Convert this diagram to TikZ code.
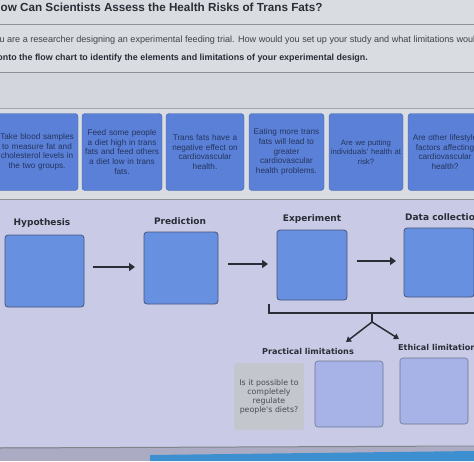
\documentclass[tikz,border=0pt]{standalone}
\usepackage{fontspec}
\setmainfont{Liberation Sans}
\newfontfamily\dejavu{DejaVu Sans}
\usetikzlibrary{arrows.meta}
\definecolor{topbg}{HTML}{D9DDE2}
\definecolor{bandbg}{HTML}{D3D7DD}
\definecolor{lowbg}{HTML}{C9CAE6}
\definecolor{tileblue}{HTML}{5B80D8}
\definecolor{tiletext}{HTML}{24355E}
\definecolor{boxblue}{HTML}{6890E0}
\definecolor{boxedge}{HTML}{46557A}
\definecolor{limblue}{HTML}{A7B3E6}
\definecolor{grayTile}{HTML}{C3C6CC}
\definecolor{ink}{HTML}{2A2D36}
\definecolor{rulegray}{HTML}{8E9298}
\definecolor{screenblue}{HTML}{3E8FD0}
\tikzset{
  tile/.style={fill=tileblue, draw=tileblue!80!black, line width=0.4pt, rounded corners=3pt,
    text=tiletext, font=\fontsize{8.2}{9.6}\selectfont, align=center, inner sep=1pt},
  slot/.style={fill=boxblue, draw=boxedge, line width=0.8pt, rounded corners=3pt},
  limslot/.style={fill=limblue, draw=boxedge!80, line width=0.6pt, rounded corners=3pt},
  heading/.style={font=\dejavu\bfseries\fontsize{9}{10}\selectfont, text=ink, inner sep=0pt},
  smallheading/.style={font=\dejavu\bfseries\fontsize{8.1}{9}\selectfont, text=ink, inner sep=0pt},
  flowarrow/.style={draw=ink, line width=2.4pt, -{Triangle[length=6pt,width=8pt]}},
  bracket/.style={draw=ink, line width=1.5pt},
  brarrow/.style={draw=ink, line width=1.5pt, -{Triangle[length=5pt,width=6pt]}},
}
\begin{document}
\begin{tikzpicture}[x=1pt,y=-1pt]
\useasboundingbox (0,0) rectangle (474,461);
\clip (0,0) rectangle (474,461);
% backgrounds
\fill[topbg] (0,0) rectangle (474,200);
\fill[bandbg] (0,72) rectangle (474,108);
\fill[lowbg] (0,200) rectangle (474,447);
\fill[lowbg!85!black] (0,447) rectangle (474,461);
\fill[screenblue] (150,455) -- (474,451) -- (474,461) -- (150,461) -- cycle;
\draw[rulegray, line width=0.6pt] (0,24) -- (474,24);
\draw[rulegray, line width=0.6pt] (0,72) -- (474,72);
\draw[rulegray!80, line width=0.5pt] (0,108) -- (474,108);
\draw[rulegray, line width=1pt] (0,199) -- (474,199);
\draw[rulegray!90!black, line width=1pt] (0,448) -- (474,446);
% header texts
\node[anchor=west, inner sep=0pt, text=ink, font=\bfseries\fontsize{11.7}{13}\selectfont] (title) at (-8,7) {How Can Scientists Assess the Health Risks of Trans Fats?};
\node[anchor=west, inner sep=0pt, text=ink!90, font=\fontsize{9.1}{10}\selectfont] (intro1) at (-11,40) {You are a researcher designing an experimental feeding trial. How would you set up your study and what limitations would};
\node[anchor=west, inner sep=0pt, text=ink, font=\bfseries\fontsize{8.9}{10}\selectfont] (intro2) at (-25.5,58) {Drag onto the flow chart to identify the elements and limitations of your experimental design.};
% tiles
\node[tile, minimum width=82pt, minimum height=77pt, text width=80pt] (t1) at (37,152) {Take blood samples\\ to measure fat and\\ cholesterol levels in\\ the two groups.};
\node[tile, minimum width=80pt, minimum height=77pt, text width=78pt] (t2) at (122,152) {Feed some people\\ a diet high in trans\\ fats and feed others\\ a diet low in trans\\ fats.};
\node[tile, minimum width=78pt, minimum height=77pt, text width=76pt] (t3) at (205,152) {Trans fats have a\\ negative effect on\\ cardiovascular\\ health.};
\node[tile, minimum width=75pt, minimum height=77pt, text width=73pt] (t4) at (286.5,152) {Eating more trans\\ fats will lead to\\ greater\\ cardiovascular\\ health problems.};
\node[tile, minimum width=74pt, minimum height=77pt, text width=72pt, font=\fontsize{7.7}{9.6}\selectfont] (t5) at (366,152) {Are we putting\\ individuals' health at\\ risk?};
\node[tile, minimum width=74pt, minimum height=77pt, text width=72pt] (t6) at (445,152) {Are other lifestyle\\ factors affecting\\ cardiovascular\\ health?};
% flow headings and slots
\node[heading] (hh) at (42,223) {Hypothesis};
\node[heading] (hp) at (180,221) {Prediction};
\node[heading] (he) at (312,219) {Experiment};
\node[heading, anchor=west] (hd) at (405,217) {Data collection};
\node[slot, minimum width=79pt, minimum height=72pt] (hyp) at (44.5,271) {};
\node[slot, minimum width=74pt, minimum height=72pt] (pred) at (181,268) {};
\node[slot, minimum width=70pt, minimum height=70pt] (exp) at (312,265) {};
\node[slot, minimum width=70pt, minimum height=69pt] (data) at (439,262.5) {};
\draw[flowarrow] (93,267) -- (135,267);
\draw[flowarrow] (228,264) -- (268,264);
\draw[flowarrow] (357,261) -- (396,261);
% bracket
\coordinate (bl) at (269,304);
\coordinate (blc) at (269,313);
\coordinate (br) at (474,313);
\coordinate (bm) at (372,313);
\coordinate (bfork) at (372,322);
\coordinate (lpt) at (346,342);
\coordinate (ept) at (399,339);
\draw[bracket] (bl) -- (blc) -- (br);
\draw[bracket] (bm) -- (bfork);
\draw[brarrow] (bfork) -- (lpt);
\draw[brarrow] (bfork) -- (ept);
\node[smallheading] (hpl) at (308,351) {Practical limitations};
\node[smallheading, anchor=west] (hel) at (398,347) {Ethical limitations};
% limitation slots
\node[fill=grayTile, rounded corners=3pt, minimum width=70pt, minimum height=67pt, text width=68pt, align=center, text=ink!85, font=\dejavu\fontsize{7.8}{9}\selectfont, inner sep=1pt] (gt) at (269,396.5) {Is it possible to\\ completely\\ regulate\\ people's diets?};
\node[limslot, minimum width=68pt, minimum height=66pt] (pl) at (349,394) {};
\node[limslot, minimum width=68pt, minimum height=66pt] (el) at (434,391) {};
\end{tikzpicture}
\end{document}
